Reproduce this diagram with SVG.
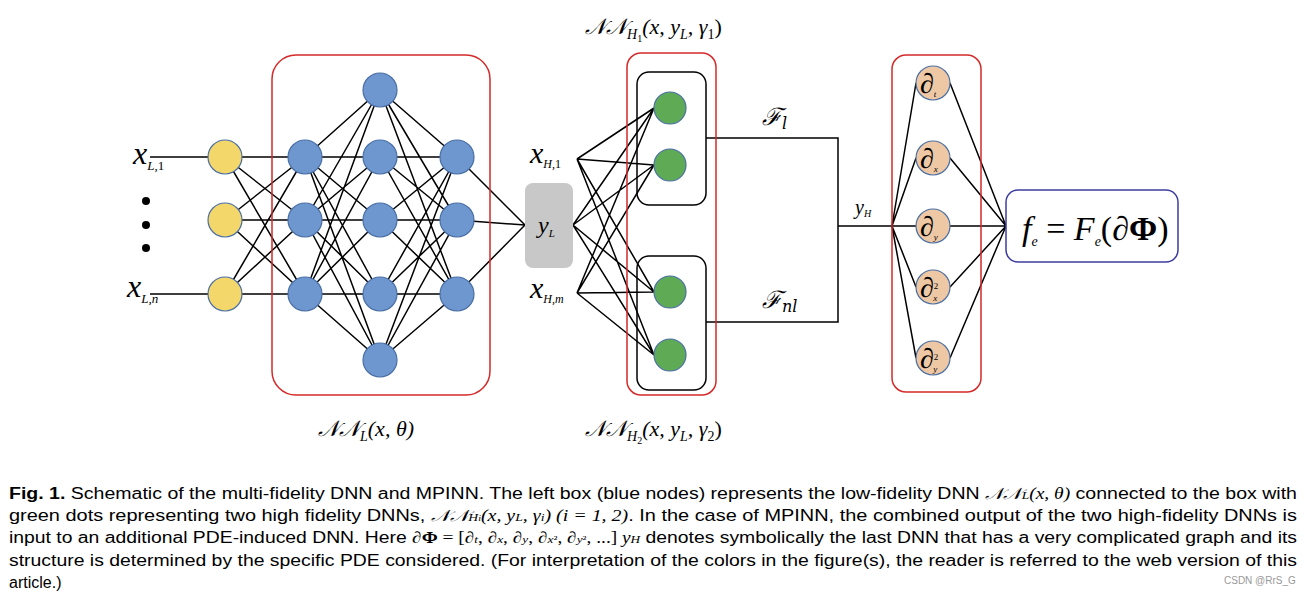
<svg xmlns="http://www.w3.org/2000/svg" width="1309" height="596" viewBox="0 0 1309 596">
<style>
.e{stroke:#000;stroke-width:1.5;fill:none}
.y{fill:#f4d76a;stroke:#4a6fa5;stroke-width:1.2}
.b{fill:#6e97d0;stroke:#4a6fa5;stroke-width:1.2}
.g{fill:#5fab55;stroke:#4a6fa5;stroke-width:1.2}
.o{fill:#eec7a4;stroke:#4a6fa5;stroke-width:1.2}
.rb{fill:none;stroke:#d42a2a;stroke-width:1.5}
.m{font-family:"Liberation Serif",serif;font-style:italic}
.c{font-family:"Liberation Sans",sans-serif;font-size:16px}
.n{font-style:normal}
</style>
<rect width="1309" height="596" fill="#fff"/>
<g id="connectors">
<path class="e" d="M150 157H208M150 294H208"/>
<path class="e" d="M225 157L305 157M225 157L305 220M225 157L305 294M225 220L305 157M225 220L305 220M225 220L305 294M225 294L305 157M225 294L305 220M225 294L305 294"/>
<path class="e" d="M305 157L380 90M305 157L380 157M305 157L380 220M305 157L380 294M305 157L380 360M305 220L380 90M305 220L380 157M305 220L380 220M305 220L380 294M305 220L380 360M305 294L380 90M305 294L380 157M305 294L380 220M305 294L380 294M305 294L380 360"/>
<path class="e" d="M380 90L457 157M380 90L457 220M380 90L457 294M380 157L457 157M380 157L457 220M380 157L457 294M380 220L457 157M380 220L457 220M380 220L457 294M380 294L457 157M380 294L457 220M380 294L457 294M380 360L457 157M380 360L457 220M380 360L457 294"/>
<path class="e" d="M457 157L525 225M457 220L525 225M457 294L525 225"/>
<path class="e" d="M577 159L654 108M577 159L654 165M577 159L654 292M577 159L654 355M573 225L654 108M573 225L654 165M573 225L654 292M573 225L654 355M577 293L654 108M577 293L654 165M577 293L654 292M577 293L654 355"/>
<path class="e" d="M706 138H838V322H706M838 226H892"/>
<path class="e" d="M892 226L916 83M892 226L916 158M892 226L916 226M892 226L916 287M892 226L916 358M950 83L1006 226M950 158L1006 226M950 226L1006 226M950 287L1006 226M950 358L1006 226"/>
</g>
<g id="lowbox"><rect class="rb" x="272" y="55" width="218" height="340" rx="24"/></g>
<g id="highbox"><rect class="rb" x="627" y="53" width="89" height="342" rx="14"/>
<rect class="e" x="637" y="72" width="69" height="133" rx="12"/>
<rect class="e" x="637" y="256" width="69" height="134" rx="12"/></g>
<g id="pdebox"><rect class="rb" x="892" y="55" width="89" height="337" rx="14"/></g>
<g id="inputs">
<circle class="y" cx="225" cy="157" r="17"/><circle class="y" cx="225" cy="220" r="17"/><circle class="y" cx="225" cy="294" r="17"/>
<circle cx="146" cy="201" r="4"/><circle cx="146" cy="225" r="4"/><circle cx="146" cy="248" r="4"/>
<text class="m" x="133" y="164" font-size="32">x<tspan font-size="13" dy="6">L,<tspan class="n">1</tspan></tspan></text>
<text class="m" x="127" y="297" font-size="32">x<tspan font-size="13" dy="6">L,n</tspan></text>
</g>
<g id="lowdnn">
<circle class="b" cx="305" cy="157" r="17"/><circle class="b" cx="305" cy="220" r="17"/><circle class="b" cx="305" cy="294" r="17"/>
<circle class="b" cx="380" cy="90" r="17"/><circle class="b" cx="380" cy="157" r="17"/><circle class="b" cx="380" cy="220" r="17"/><circle class="b" cx="380" cy="294" r="17"/><circle class="b" cx="380" cy="360" r="17"/>
<circle class="b" cx="457" cy="157" r="17"/><circle class="b" cx="457" cy="220" r="17"/><circle class="b" cx="457" cy="294" r="17"/>
</g>
<g id="yL"><rect x="525" y="183" width="48" height="85" rx="8" fill="#c8c8c8"/>
<text class="m" x="538" y="233" font-size="24">y<tspan font-size="11" dy="4">L</tspan></text></g>
<g id="xH">
<text class="m" x="530" y="163" font-size="30">x<tspan font-size="12" dy="5">H,<tspan class="n">1</tspan></tspan></text>
<text class="m" x="530" y="298" font-size="30">x<tspan font-size="12" dy="5">H,m</tspan></text>
</g>
<g id="green">
<circle class="g" cx="670" cy="108" r="16"/><circle class="g" cx="670" cy="165" r="16"/><circle class="g" cx="670" cy="292" r="16"/><circle class="g" cx="670" cy="355" r="16"/>
</g>
<g id="labels" font-family="'Liberation Serif',serif" font-style="italic">
<text x="762" y="125" font-size="24" font-family="'DejaVu Serif',serif">ℱ<tspan font-size="16" dy="4">l</tspan></text>
<text x="762" y="308" font-size="24" font-family="'DejaVu Serif',serif">ℱ<tspan font-size="16" dy="4">nl</tspan></text>
<text x="855" y="214" font-size="20">y<tspan font-size="10" dy="3">H</tspan></text>
<text x="585" y="34" font-size="22">𝒩𝒩<tspan font-size="14" dy="5">H</tspan><tspan font-size="10" dy="3" class="n">1</tspan><tspan dy="-8">(x, y</tspan><tspan font-size="14" dy="5">L</tspan><tspan dy="-5">, γ</tspan><tspan font-size="14" dy="5" class="n">1</tspan><tspan dy="-5" class="n">)</tspan></text>
<text x="585" y="436" font-size="22">𝒩𝒩<tspan font-size="14" dy="5">H</tspan><tspan font-size="10" dy="3" class="n">2</tspan><tspan dy="-8">(x, y</tspan><tspan font-size="14" dy="5">L</tspan><tspan dy="-5">, γ</tspan><tspan font-size="14" dy="5" class="n">2</tspan><tspan dy="-5" class="n">)</tspan></text>
<text x="318" y="436" font-size="22">𝒩𝒩<tspan font-size="14" dy="5">L</tspan><tspan dy="-5">(x, θ)</tspan></text>
</g>
<g id="pde" class="m">
<circle class="o" cx="933" cy="83" r="17"/><circle class="o" cx="933" cy="158" r="17"/><circle class="o" cx="933" cy="226" r="17"/><circle class="o" cx="933" cy="287" r="17"/><circle class="o" cx="933" cy="358" r="17"/>
<text x="920" y="93" font-size="28">∂<tspan font-size="9" dy="4">t</tspan></text>
<text x="920" y="168" font-size="28">∂<tspan font-size="9" dy="4">x</tspan></text>
<text x="920" y="236" font-size="28">∂<tspan font-size="9" dy="4">y</tspan></text>
<text x="920" y="297" font-size="28">∂<tspan font-size="9" dy="-8" class="n">2</tspan><tspan font-size="9" dx="-5" dy="12">x</tspan></text>
<text x="920" y="368" font-size="28">∂<tspan font-size="9" dy="-8" class="n">2</tspan><tspan font-size="9" dx="-5" dy="12">y</tspan></text>
</g>
<g id="fe"><rect x="1006" y="190" width="172" height="72" rx="12" fill="#fff" stroke="#3c3ca0" stroke-width="1.5"/>
<text class="m" x="1022" y="240" font-size="34">f<tspan font-size="14" dy="6">e</tspan><tspan dy="-6" class="n"> = </tspan>F<tspan font-size="14" dy="6">e</tspan><tspan dy="-6" class="n">(</tspan>∂<tspan font-weight="bold" class="n">Φ</tspan><tspan class="n">)</tspan></text></g>
<g id="caption" class="c">
<text x="9" y="499" textLength="1288" lengthAdjust="spacingAndGlyphs"><tspan font-weight="bold">Fig. 1.</tspan> Schematic of the multi-fidelity DNN and MPINN. The left box (blue nodes) represents the low-fidelity DNN <tspan font-family="'Liberation Serif',serif" font-style="italic">𝒩𝒩<tspan font-size="11">L</tspan>(x, θ)</tspan> connected to the box with</text>
<text x="9" y="521" textLength="1288" lengthAdjust="spacingAndGlyphs">green dots representing two high fidelity DNNs, <tspan font-family="'Liberation Serif',serif" font-style="italic">𝒩𝒩<tspan font-size="11">H<tspan font-size="8">i</tspan></tspan>(x, y<tspan font-size="11">L</tspan>, γ<tspan font-size="11">i</tspan>) (i = 1, 2)</tspan>. In the case of MPINN, the combined output of the two high-fidelity DNNs is</text>
<text x="9" y="543" textLength="1288" lengthAdjust="spacingAndGlyphs">input to an additional PDE-induced DNN. Here <tspan font-family="'Liberation Serif',serif">∂<tspan font-weight="bold">Φ</tspan> = [∂<tspan font-size="11" font-style="italic">t</tspan>, ∂<tspan font-size="11" font-style="italic">x</tspan>, ∂<tspan font-size="11" font-style="italic">y</tspan>, ∂<tspan font-size="11" font-style="italic">x</tspan><tspan font-size="11">²</tspan>, ∂<tspan font-size="11" font-style="italic">y</tspan><tspan font-size="11">²</tspan>, ...] <tspan font-style="italic">y<tspan font-size="11">H</tspan></tspan></tspan> denotes symbolically the last DNN that has a very complicated graph and its</text>
<text x="9" y="566" textLength="1288" lengthAdjust="spacingAndGlyphs">structure is determined by the specific PDE considered. (For interpretation of the colors in the figure(s), the reader is referred to the web version of this</text>
<text x="9" y="588">article.)</text>
<text x="1224" y="584" font-size="10" fill="#999">CSDN @RrS_G</text>
</g>
</svg>
